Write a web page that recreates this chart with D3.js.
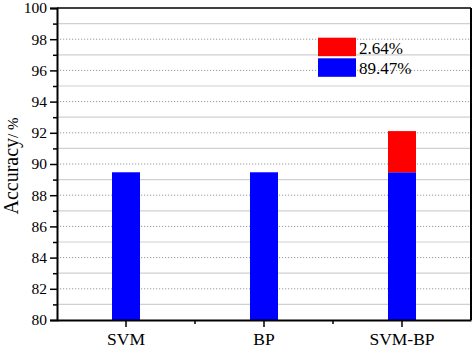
<!DOCTYPE html>
<html><head><meta charset="utf-8">
<script src="https://cdn.jsdelivr.net/npm/d3@7"></script>
<style>body{margin:0;background:#fff}svg{display:block}svg text{font-family:"Liberation Serif","Times New Roman",serif !important}</style>
</head><body><svg id="c" width="474" height="352"></svg>
<script>
const categories = ["SVM", "BP", "SVM-BP"];
const baseValues = [89.47, 89.47, 89.47];
const gainValues = [0, 0, 2.64];
const legendLabels = ["2.64%", "89.47%"];
const yMajorTicks = [80, 82, 84, 86, 88, 90, 92, 94, 96, 98, 100];
const yMinorTicks = [81, 83, 85, 87, 89, 91, 93, 95, 97, 99];

const svg = d3.select("#c");
const m = {l: 57, r: 471, t: 8, b: 320};
const x = d3.scaleBand().domain(categories).range([m.l, m.r]);
const y = d3.scaleLinear().domain([80, 100]).range([m.b, m.t]);
const bw = 28;

// grid
svg.append("g").selectAll("line").data(yMinorTicks).join("line")
  .attr("x1", m.l).attr("x2", m.r).attr("y1", d => y(d)).attr("y2", d => y(d))
  .attr("stroke", "#d0d0d0").attr("stroke-width", 1.2);
svg.append("g").selectAll("line").data(yMajorTicks.filter(d => d > 80 && d < 100)).join("line")
  .attr("x1", m.l).attr("x2", m.r).attr("y1", d => y(d)).attr("y2", d => y(d))
  .attr("stroke", "#999").attr("stroke-width", 1).attr("stroke-dasharray", "1.2,1.8");

// bars
const bars = svg.append("g");
bars.selectAll("rect.base").data(categories).join("rect")
  .attr("x", d => x(d) + x.bandwidth() / 2 - bw / 2).attr("width", bw)
  .attr("y", (d, i) => y(baseValues[i])).attr("height", (d, i) => y(80) - y(baseValues[i]))
  .attr("fill", "#0000ff");
bars.selectAll("rect.gain").data(categories.filter((d, i) => gainValues[i] > 0)).join("rect")
  .attr("x", d => x(d) + x.bandwidth() / 2 - bw / 2).attr("width", bw)
  .attr("y", d => { const i = categories.indexOf(d); return y(baseValues[i] + gainValues[i]); })
  .attr("height", d => { const i = categories.indexOf(d); return y(baseValues[i]) - y(baseValues[i] + gainValues[i]); })
  .attr("fill", "#ff0000");

// frame
svg.append("line").attr("x1", m.l).attr("x2", m.r).attr("y1", m.t).attr("y2", m.t).attr("stroke", "#000").attr("stroke-width", 1.5);
svg.append("line").attr("x1", m.r).attr("x2", m.r).attr("y1", m.t).attr("y2", m.b).attr("stroke", "#000").attr("stroke-width", 2);

// y axis
const ya = svg.append("g").attr("transform", `translate(${m.l},0)`)
  .call(d3.axisLeft(y).tickValues(yMajorTicks).tickSize(7).tickPadding(3).tickFormat(d3.format("d")));
ya.attr("font-family", null).attr("font-size", 15.5);
ya.select(".domain").attr("stroke-width", 2);
ya.selectAll(".tick line").attr("stroke-width", 1.5);
ya.selectAll("text").attr("fill", "#000");
svg.append("g").attr("transform", `translate(${m.l},0)`)
  .call(d3.axisLeft(y).tickValues(yMinorTicks).tickSize(4).tickFormat(""))
  .call(g => g.select(".domain").remove())
  .selectAll("line").attr("stroke-width", 1.5);

// x axis
const xa = svg.append("g").attr("transform", `translate(0,${m.b})`)
  .call(d3.axisBottom(x).tickSize(7).tickPadding(6).tickSizeOuter(0));
xa.attr("font-family", null).attr("font-size", 17.5);
xa.select(".domain").attr("stroke-width", 2);
xa.selectAll(".tick line").attr("stroke-width", 1.5);
xa.selectAll("text").attr("fill", "#000");
const mids = categories.slice(1).map(c => x(c));
svg.append("g").selectAll("line").data(mids).join("line")
  .attr("x1", d => d).attr("x2", d => d).attr("y1", m.b).attr("y2", m.b + 4)
  .attr("stroke", "#000").attr("stroke-width", 1.5);

// y title
const yt = svg.append("text").attr("transform", `translate(18,${(m.t + m.b) / 2 + 2}) rotate(-90)`)
  .attr("text-anchor", "middle").attr("fill", "#000");
yt.append("tspan").attr("font-size", 20).text("Accuracy");
yt.append("tspan").attr("font-size", 15).text("/ %");

// legend
const lg = svg.append("g");
const legendColors = ["#ff0000", "#0000ff"];
legendLabels.forEach((t, i) => {
  lg.append("rect").attr("x", 318).attr("y", 37.7 + i * 20.6).attr("width", 38).attr("height", 18.5).attr("fill", legendColors[i]);
  lg.append("text").attr("x", 359).attr("y", 53.5 + i * 20.6).attr("font-size", 17).attr("fill", "#000").text(t);
});
</script></body></html>
